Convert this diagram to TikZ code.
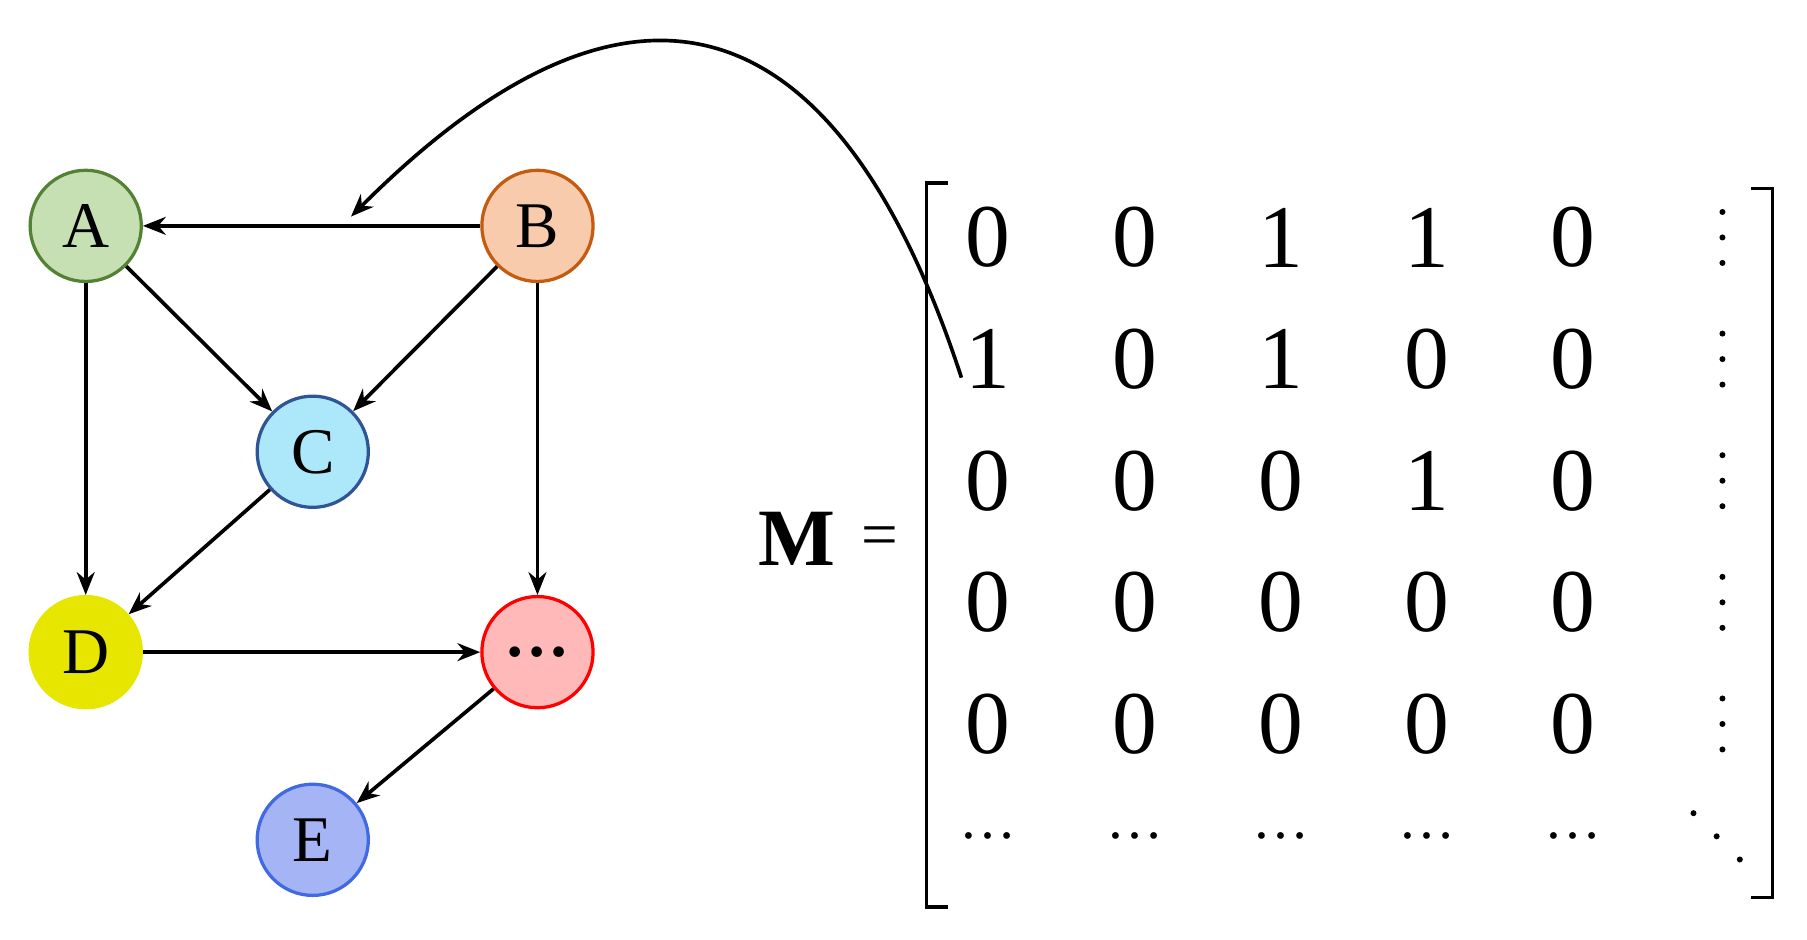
\documentclass[tikz,border=0pt]{standalone}
\usepackage{fontspec}
\setmainfont{Liberation Serif}
\usetikzlibrary{arrows.meta}
\begin{document}
\begin{tikzpicture}[x=0.05cm,y=-0.05cm,
  vx/.style={circle,minimum size=96*0.05cm,inner sep=0pt,line width=4pt,font=\fontsize{80}{90}\selectfont},
  ed/.style={line width=4.5pt,-{Stealth[length=28pt,width=22pt]}},
  mx/.style={font=\fontsize{110}{120}\selectfont,inner sep=0pt},
  br/.style={line width=4pt}]
\useasboundingbox (0,0) rectangle (1560,811);
\node[vx,fill={rgb,255:red,198;green,224;blue,180},draw={rgb,255:red,84;green,130;blue,53}] (A) at (74,195) {A};
\node[vx,fill={rgb,255:red,248;green,203;blue,173},draw={rgb,255:red,197;green,90;blue,17}] (B) at (464,195) {B};
\node[vx,fill={rgb,255:red,173;green,232;blue,250},draw={rgb,255:red,47;green,85;blue,151}] (C) at (270,390) {C};
\node[vx,fill={rgb,255:red,230;green,230;blue,0},draw={rgb,255:red,230;green,230;blue,0}] (D) at (74,563) {D};
\node[vx,fill={rgb,255:red,255;green,185;blue,185},draw=red,font=\fontsize{80}{90}\selectfont\bfseries] (X) at (464,563) {…};
\node[vx,fill={rgb,255:red,164;green,180;blue,244},draw={rgb,255:red,65;green,105;blue,225}] (E) at (270,725) {E};
\draw[ed] (B) -- (A);
\draw[ed] (A) -- (C);
\draw[ed] (B) -- (C);
\draw[ed] (A) -- (D);
\draw[ed] (C) -- (D);
\draw[ed] (B) -- (X);
\draw[ed] (D) -- (X);
\draw[ed] (X) -- (E);
\coordinate (s) at (830,326);
\coordinate (t) at (303,187);
\draw[ed] (s) .. controls (730,20) and (560,-70) .. (t);
\draw[br] (818,158) -- (800,158) -- (800,783) -- (818,783);
\draw[br] (1512,163) -- (1530,163) -- (1530,775) -- (1512,775);
\node[mx,font=\fontsize{100}{110}\selectfont\bfseries] (M) at (688,465) {M};
\node[font=\fontsize{80}{90}\selectfont,inner sep=0pt] (eq) at (760,468) {=};
\foreach \r/\a/\b/\c/\d/\e [count=\i] in {205/0/0/1/1/0,310/1/0/1/0/0,415/0/0/0/1/0,520/0/0/0/0/0,625/0/0/0/0/0}{
  \node[mx] (m\i a) at (853,\r) {\a};
  \node[mx] (m\i b) at (980,\r) {\b};
  \node[mx] (m\i c) at (1106,\r) {\c};
  \node[mx] (m\i d) at (1232,\r) {\d};
  \node[mx] (m\i e) at (1358,\r) {\e};
  \foreach \dy in {-22,0,22}{\fill (1487,\r+\dy) circle (2.6);}
}
\foreach \x [count=\j] in {853,980,1106,1232,1358}{
  \node[mx,font=\fontsize{70}{80}\selectfont] (r\j) at (\x,722) {…};
}
\foreach \d in {0,1,2}{\fill (1462+\d*20,702+\d*20) circle (2.6);}
\end{tikzpicture}
\end{document}
